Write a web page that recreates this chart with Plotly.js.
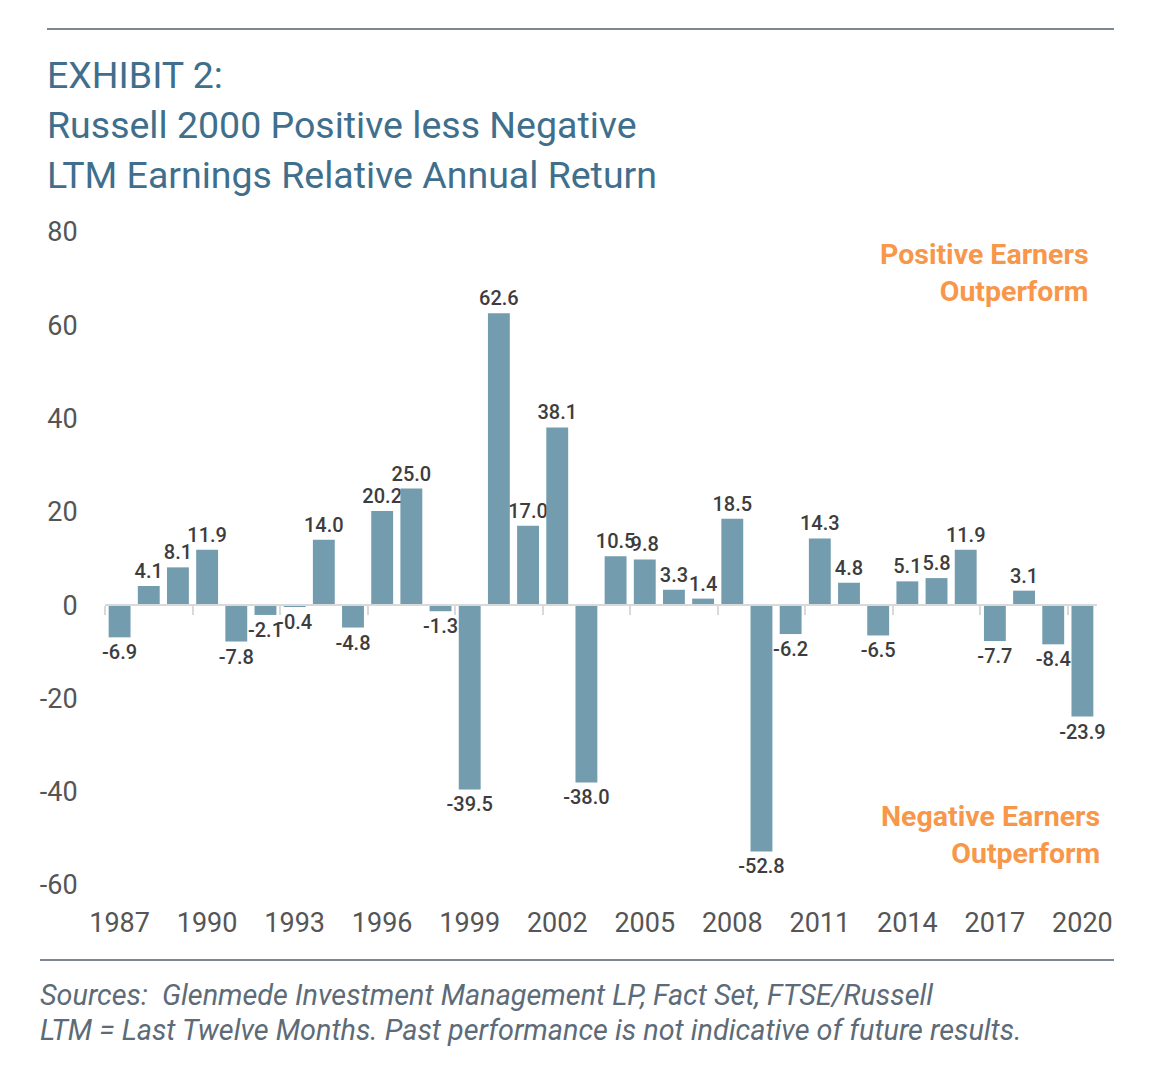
<!DOCTYPE html>
<html>
<head>
<meta charset="utf-8">
<script src="https://cdn.plot.ly/plotly-3.0.1.min.js"></script>
<style>
  html, body { margin: 0; padding: 0; background: #ffffff; }
  #chart { width: 1155px; height: 1084px; }
</style>
</head>
<body>
<div id="chart"></div>
<script>
// ---- Data ----
const years = [1987, 1988, 1989, 1990, 1991, 1992, 1993, 1994, 1995, 1996,
               1997, 1998, 1999, 2000, 2001, 2002, 2003, 2004, 2005, 2006,
               2007, 2008, 2009, 2010, 2011, 2012, 2013, 2014, 2015, 2016,
               2017, 2018, 2019, 2020];
const relativeReturn = [-6.9, 4.1, 8.1, 11.9, -7.8, -2.1, -0.4, 14.0, -4.8, 20.2,
                        25.0, -1.3, -39.5, 62.6, 17.0, 38.1, -38.0, 10.5, 9.8, 3.3,
                        1.4, 18.5, -52.8, -6.2, 14.3, 4.8, -6.5, 5.1, 5.8, 11.9,
                        -7.7, 3.1, -8.4, -23.9];
const yTickVals = [-60, -40, -20, 0, 20, 40, 60, 80];
const yTickText = ["-60", "-40", "-20", "0", "20", "40", "60", "80"];
const titleLines = ["EXHIBIT 2:",
                    "Russell 2000 Positive less Negative",
                    "LTM Earnings Relative Annual Return"];
const footnoteLines = ["Sources:  Glenmede Investment Management LP, Fact Set, FTSE/Russell",
                       "LTM = Last Twelve Months. Past performance is not indicative of future results."];
const positiveNote = "Positive Earners<br>Outperform";
const negativeNote = "Negative Earners<br>Outperform";
const yRange = [-60, 80];

// ---- Layout geometry (pixels) ----
const W = 1155, H = 1084;
const M = { l: 105, r: 58, t: 232, b: 199 };
const PW = W - M.l - M.r, PH = H - M.t - M.b;
const px = x => (x - M.l) / PW;          // pixel x -> paper x
const py = y => (H - M.b - y) / PH;      // pixel y -> paper y

const labels = relativeReturn.map(v => v.toFixed(1));
const zeroPos = (0 - yRange[0]) / (yRange[1] - yRange[0]);

const traces = [
  {
    type: 'bar',
    x: years,
    y: relativeReturn,
    text: labels,
    textposition: 'outside',
    cliponaxis: false,
    constraintext: 'none',
    textfont: { family: 'Roboto, sans-serif', size: 20, color: '#3d3d3d', weight: 500 },
    marker: { color: '#739cae', line: { width: 0 } },
    hoverinfo: 'x+y'
  },
  {
    type: 'scatter',
    mode: 'markers',
    x: years,
    y: relativeReturn,
    xaxis: 'x2',
    marker: { opacity: 0 },
    hoverinfo: 'skip',
    showlegend: false
  }
];

const titleFont = { family: 'Roboto, sans-serif', size: 37.5, color: '#3f6f8c' };
const footFont = { family: 'Roboto, sans-serif', size: 28.8, color: '#5d6b78', style: 'italic' };
const noteFont = { family: 'Roboto, sans-serif', size: 28.5, color: '#f8964a', weight: 'bold' };

const annotations = [];
const titleY = [75, 125, 175];
titleLines.forEach((t, i) => {
  annotations.push({ text: t, xref: 'paper', yref: 'paper', x: px(45), y: py(titleY[i]),
    xanchor: 'left', yanchor: 'middle', showarrow: false, font: titleFont });
});
const footY = [995, 1030];
footnoteLines.forEach((t, i) => {
  annotations.push({ text: t, xref: 'paper', yref: 'paper', x: px(38), y: py(footY[i]),
    xanchor: 'left', yanchor: 'middle', showarrow: false, font: footFont });
});
annotations.push({ text: positiveNote, xref: 'paper', yref: 'paper', x: px(1091), y: py(273),
  xanchor: 'right', yanchor: 'middle', align: 'right', showarrow: false, font: noteFont });
annotations.push({ text: negativeNote, xref: 'paper', yref: 'paper', x: px(1102), y: py(835),
  xanchor: 'right', yanchor: 'middle', align: 'right', showarrow: false, font: noteFont });

const layout = {
  width: W, height: H,
  margin: M,
  paper_bgcolor: '#ffffff',
  plot_bgcolor: '#ffffff',
  showlegend: false,
  bargap: 0.25,
  font: { family: 'Roboto, sans-serif' },
  xaxis: {
    range: [years[0] - 0.5, years[years.length - 1] + 0.5],
    tickmode: 'linear', tick0: years[0], dtick: 3,
    ticks: '', showline: false, showgrid: false, zeroline: false,
    ticklabelstandoff: 19,
    tickfont: { family: 'Roboto, sans-serif', size: 27, color: '#555555' }
  },
  xaxis2: {
    overlaying: 'x', matches: 'x', anchor: 'free', position: zeroPos,
    tickmode: 'linear', tick0: years[0] - 0.5, dtick: 3,
    ticks: 'outside', ticklen: 9, tickwidth: 2, tickcolor: '#d9d9d9',
    showline: true, linecolor: '#d9d9d9', linewidth: 2,
    showticklabels: false, showgrid: false, zeroline: false
  },
  yaxis: {
    range: yRange, tickmode: 'array', tickvals: yTickVals, ticktext: yTickText,
    ticks: 'outside', ticklen: 21, tickcolor: 'rgba(0,0,0,0)',
    showline: false, showgrid: false, zeroline: false,
    tickfont: { family: 'Roboto, sans-serif', size: 27, color: '#555555' }
  },
  shapes: [
    { type: 'line', xref: 'paper', yref: 'paper', x0: px(47), x1: px(1114), y0: py(29), y1: py(29),
      line: { color: '#7d8893', width: 2 } },
    { type: 'line', xref: 'paper', yref: 'paper', x0: px(40), x1: px(1114), y0: py(960), y1: py(960),
      line: { color: '#7d8893', width: 2 } }
  ],
  annotations: annotations
};

Plotly.newPlot('chart', traces, layout, { displayModeBar: false, staticPlot: true });
</script>
</body>
</html>
